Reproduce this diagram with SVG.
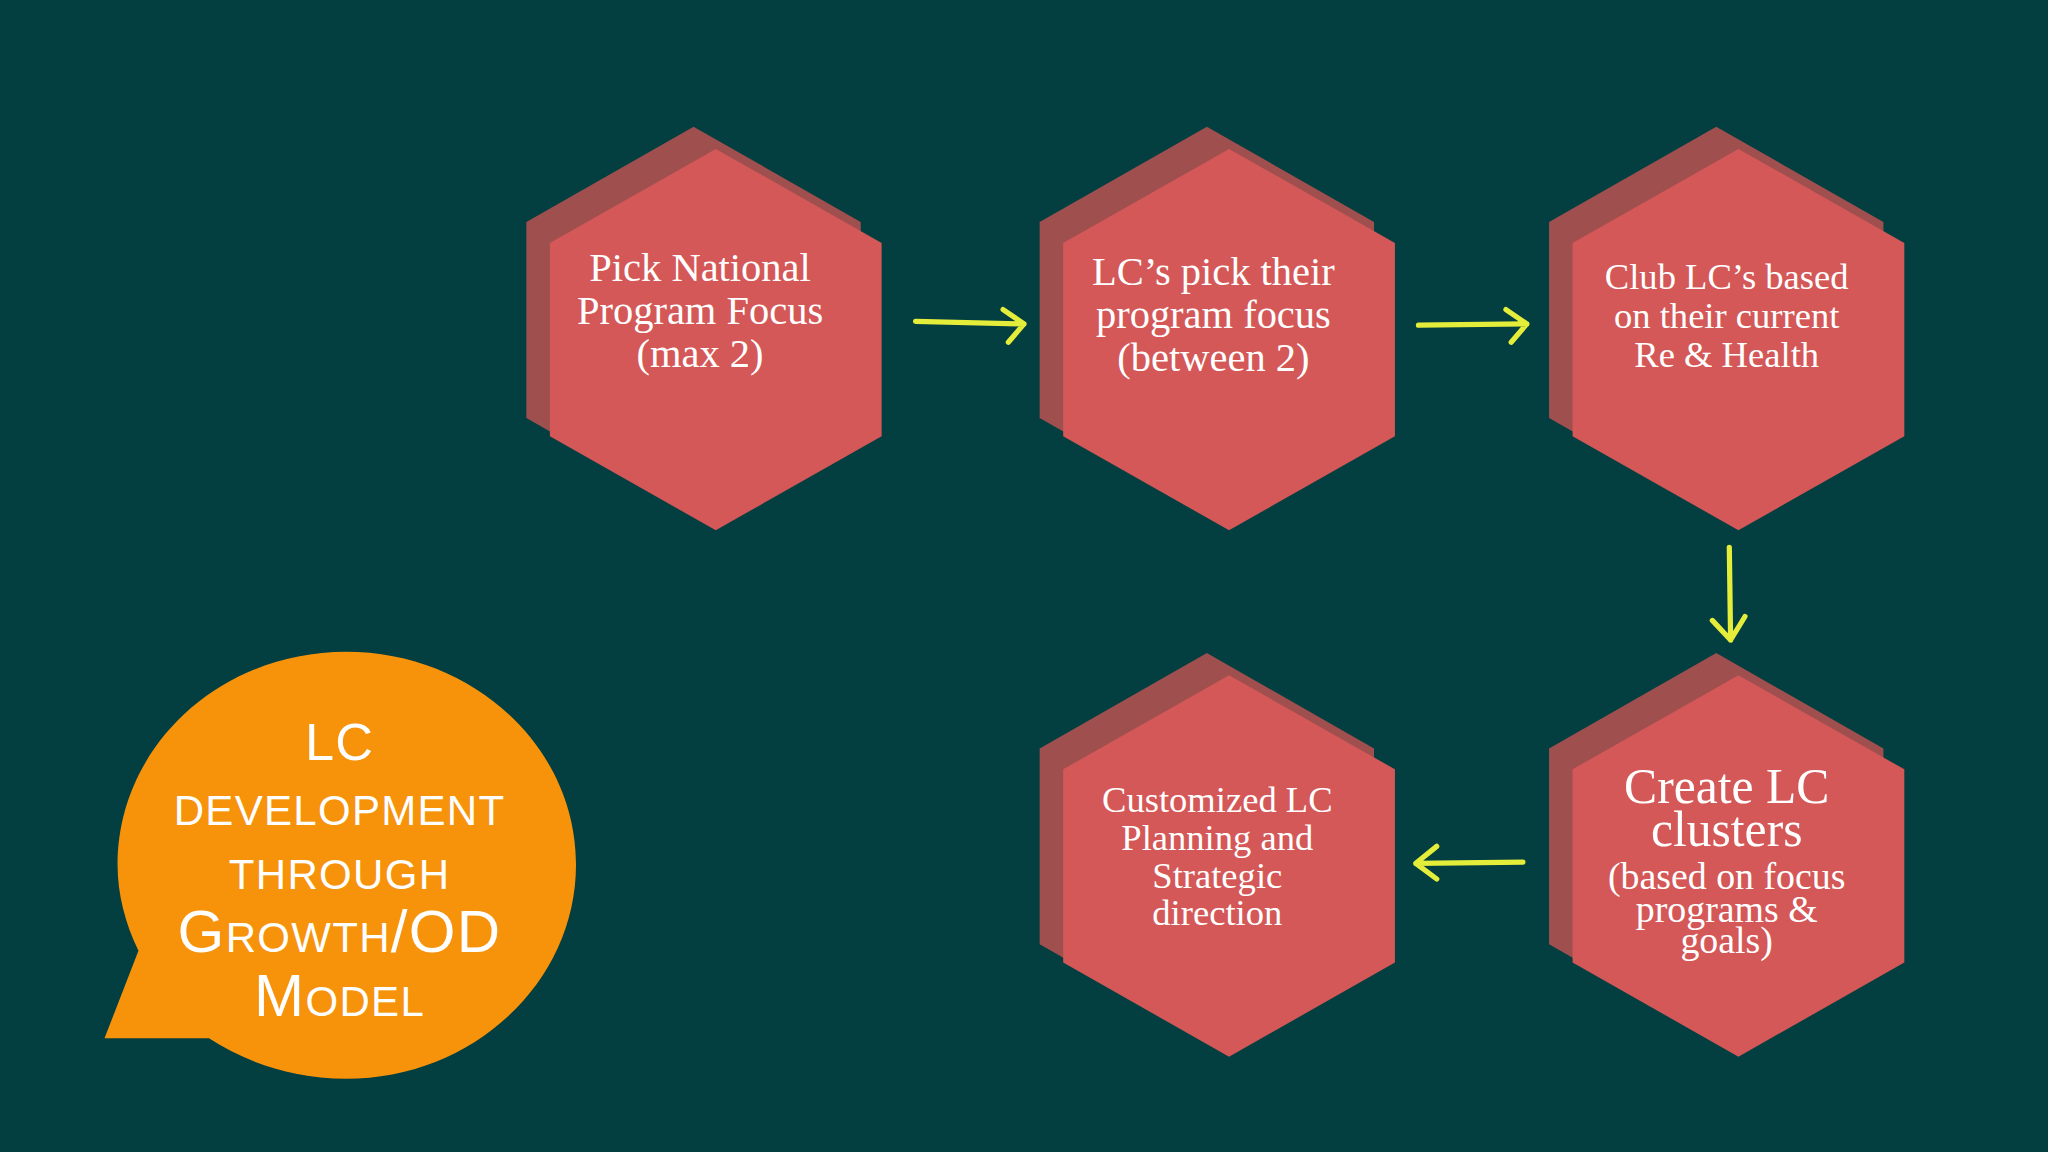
<svg xmlns="http://www.w3.org/2000/svg" xmlns:xlink="http://www.w3.org/1999/xlink" width="2048" height="1152" viewBox="0 0 2048 1152">
<style>
.back{fill:#a04f4f}.front{fill:#d45857}
.t{font-family:"Liberation Serif",serif;fill:#fff;text-anchor:middle;font-size:31px}
.arr{stroke:#e4ee3a;stroke-width:4;fill:none;stroke-linecap:round;stroke-linejoin:round}
.b{font-family:"Liberation Sans",sans-serif;fill:#fff;text-anchor:middle;font-variant:small-caps;font-size:46px;letter-spacing:1px}
</style>
<defs>
<path id="hx" d="M0,0 L128,73 L128,223 L0,296 L-128,223 L-128,73 Z"/>
<path id="hf" d="M0,0 L127,72 L127,220 L0,292 L-127,220 L-127,72 Z"/>
</defs>
<rect width="2048" height="1152" fill="#033e40"/>
<g transform="scale(1.30612)">
<g id="n1"><use xlink:href="#hx" class="back" x="531" y="97"/><use xlink:href="#hf" class="front" x="548" y="114"/>
<text class="t"><tspan x="536" y="215">Pick National</tspan><tspan x="536" y="248">Program Focus</tspan><tspan x="536" y="281">(max 2)</tspan></text></g>
<g id="n2"><use xlink:href="#hx" class="back" x="924" y="97"/><use xlink:href="#hf" class="front" x="941" y="114"/>
<text class="t"><tspan x="929" y="218">LC’s pick their</tspan><tspan x="929" y="251">program focus</tspan><tspan x="929" y="284">(between 2)</tspan></text></g>
<g id="n3"><use xlink:href="#hx" class="back" x="1314" y="97"/><use xlink:href="#hf" class="front" x="1331" y="114"/>
<text class="t" style="font-size:28px"><tspan x="1322" y="221">Club LC’s based</tspan><tspan x="1322" y="251">on their current</tspan><tspan x="1322" y="281">Re &amp; Health</tspan></text></g>
<g id="n4"><use xlink:href="#hx" class="back" x="1314" y="500"/><use xlink:href="#hf" class="front" x="1331" y="517"/>
<text class="t" style="font-size:38px"><tspan x="1322" y="615">Create LC</tspan><tspan x="1322" y="648">clusters</tspan></text>
<text class="t" style="font-size:29px"><tspan x="1322" y="681">(based on focus</tspan><tspan x="1322" y="706">programs &amp;</tspan><tspan x="1322" y="730">goals)</tspan></text></g>
<g id="n5"><use xlink:href="#hx" class="back" x="924" y="500"/><use xlink:href="#hf" class="front" x="941" y="517"/>
<text class="t" style="font-size:28px"><tspan x="932" y="622">Customized LC</tspan><tspan x="932" y="651">Planning and</tspan><tspan x="932" y="680">Strategic</tspan><tspan x="932" y="708">direction</tspan></text></g>
<g id="connectors" class="arr">
<path d="M701,246 L784,248 M768,237 L784,248 L772,262"/>
<path d="M1086,249 L1169,248 M1153,237 L1169,248 L1157,262"/>
<path d="M1324,419 L1325,490 M1311,475 L1325,490 L1336,472"/>
<path d="M1166,660 L1084,661 M1100,648 L1084,661 L1100,673"/>
</g>
<g id="bubble">
<path d="M265,499 C362,499 441,572 441,662 C441,752 362,826 265,826 C222,826 186,812 160,795 L80,795 L106,728 C96,707 90,685 90,662 C90,572 168,499 265,499 Z" fill="#f7920b"/>
<text class="b"><tspan x="260" y="582" style="font-size:40px">LC</tspan><tspan x="260" y="632">development</tspan><tspan x="260" y="681">through</tspan><tspan x="260" y="729">Growth/OD</tspan><tspan x="260" y="778">Model</tspan></text>
</g>
</g>
</svg>
